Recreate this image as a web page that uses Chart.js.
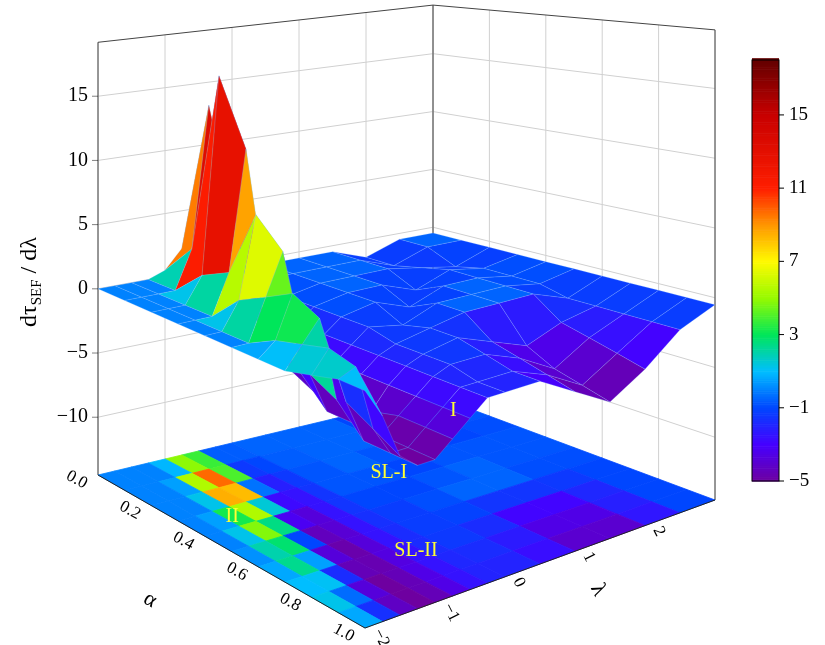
<!DOCTYPE html>
<html>
<head>
<meta charset="utf-8">
<script src="https://cdn.jsdelivr.net/npm/chart.js@4/dist/chart.umd.min.js"></script>
<style>
  body { margin: 0; background: #fff; }
  #holder { width: 825px; height: 645px; }
</style>
</head>
<body>
<div id="holder"><canvas id="chartHolder" width="825" height="645"></canvas></div>
<script>
const chartHolder = document.getElementById("chartHolder");

// grid of the surface
const alphaValues = [0, 0.1, 0.2, 0.3, 0.4, 0.5, 0.6, 0.7, 0.8, 0.9, 1.0];
const lambdaValues = [-2, -1.75, -1.5, -1.25, -1, -0.75, -0.5, -0.25, 0, 0.5, 1, 1.5, 2, 2.5, 3];
const row00 = [0, 0, 0, 0, 0.5, 2, 0, -0.5, -0.5, -0.5, -0.5, -0.5, -1.5, -0.5, -0.5];
const row01 = [0, 0, 0, 0, 3, 14, -1, -1, -0.5, -0.5, -0.5, -0.5, -1.5, -0.5, -0.5];
const row02 = [0, 0, 0, 2, 17, 5, -2, -1.5, -1, -0.5, -0.5, -0.5, -1, -1.5, -0.5];
const row03 = [0, 0, 0, 3, 12, -1, -3, -2, -1, -0.5, -0.5, -1.5, -0.5, -1, -0.5];
const row04 = [0, 0, 2, 8, -1, -4, -3, -2, -1, -0.5, -1.5, -0.5, -0.5, -1, -0.5];
const row05 = [0, 0, 3, 6, -3, -5, -3, -2, -1, -1.5, -0.5, -0.5, -0.5, -1, -0.5];
const row06 = [0, 1, 4, -2, -5, -4.5, -3, -2, -1.5, -1, -0.5, -0.5, -0.5, -1.5, -0.5];
const row07 = [0, 1.5, 3, -3, -5, -4.5, -3, -2, -1.5, -1, -2, -3, -2, -1.5, -0.5];
const row08 = [0.5, 2, -2, -5, -5, -4, -3, -2, -1.5, -1.5, -2.5, -4, -2.5, -1.5, -0.5];
const row09 = [1, 1.5, -3, -5, -5, -4, -3, -2, -2, -2, -3, -4.5, -3, -1.5, -0.5];
const row10 = [1, -1, -4, -5, -5, -4, -3, -2, -2, -2, -3.5, -5, -3.5, -1.5, -0.5];
const surfaceRows = [row00, row01, row02, row03, row04, row05, row06, row07, row08, row09, row10];

const zTicks = [-10, -5, 0, 5, 10, 15];
const alphaTicks = ["0.0", "0.2", "0.4", "0.6", "0.8", "1.0"];
const lambdaTicks = [-2, -1, 0, 1, 2];
const colorTicks = [-5, -1, 3, 7, 11, 15];
const colorMin = -5, colorMax = 18;
const zFloor = -14.5, zTop = 19.2;
const regionLabels = ["I", "SL-I", "II", "SL-II"];
const regionAt = [[0.12, 2.8], [0.35, 0.9], [0.35, -1.4], [0.75, -0.3]];

// colour map of the bar: value stops and colours
const mapStops = [-5, -3, -1, 1, 3, 5, 7, 9, 11, 15, 18];
const mapColors = [[110, 0, 160], [70, 0, 255], [0, 70, 255], [0, 190, 255], [0, 230, 90], [150, 250, 0],
                   [255, 250, 0], [255, 150, 0], [255, 30, 0], [200, 0, 0], [100, 0, 0]];

const FONT = "'Liberation Serif', serif";
const fmt = v => String(v).replace("-", "\u2212");

function colourOf(v)
{
    v = Math.max(colorMin, Math.min(colorMax, v));
    let k = 0;
    while (k < mapStops.length - 2 && v > mapStops[k + 1]) k++;
    const t = (v - mapStops[k]) / (mapStops[k + 1] - mapStops[k]);
    const c = [0, 1, 2].map(i => Math.round(mapColors[k][i] + (mapColors[k + 1][i] - mapColors[k][i]) * t));
    return "rgb(" + c.join(",") + ")";
}

// oblique view of the box, corners of the floor
function project(a, l, z)
{
    const t = (l + 2) / 5;
    const L = [98, 475], F = [365, 628], R = [715, 500], B = [433, 395];
    const near = [L[0] + (F[0] - L[0]) * a, L[1] + (F[1] - L[1]) * a];
    const far = [B[0] + (R[0] - B[0]) * a, B[1] + (R[1] - B[1]) * a];
    const x = near[0] + (far[0] - near[0]) * t;
    const y = near[1] + (far[1] - near[1]) * t;
    const fN = 12.84 + (15.3 - 12.84) * a, fF = 11.57 + (13.95 - 11.57) * a;
    const s = fN + (fF - fN) * t;
    return [x, y - (z - zFloor) * s];
}

const surfacePlugin = {
    id: "surface",
    afterDatasetsDraw(chart)
    {
        const ctx = chart.ctx;
        const sx = chart.scales.x, sy = chart.scales.y;
        const P = (a, l, z) => { const p = project(a, l, z); return [sx.getPixelForValue(p[0]), sy.getPixelForValue(p[1])]; };
        const poly = (pts) => { ctx.beginPath(); ctx.moveTo(pts[0][0], pts[0][1]); for (let i = 1; i < pts.length; i++) ctx.lineTo(pts[i][0], pts[i][1]); ctx.closePath(); };

        ctx.save();
        // walls
        ctx.strokeStyle = "#d0d0d0";
        ctx.lineWidth = 1;
        for (const z of zTicks)
        {
            ctx.beginPath(); ctx.moveTo(...P(0, -2, z)); ctx.lineTo(...P(0, 3, z)); ctx.lineTo(...P(1, 3, z)); ctx.stroke();
        }
        for (let l = -2; l <= 3; l += 1) { ctx.beginPath(); ctx.moveTo(...P(0, l, zFloor)); ctx.lineTo(...P(0, l, zTop)); ctx.stroke(); }
        for (let a = 0; a <= 1.001; a += 0.2) { ctx.beginPath(); ctx.moveTo(...P(a, 3, zFloor)); ctx.lineTo(...P(a, 3, zTop)); ctx.stroke(); }
        ctx.strokeStyle = "#444";
        for (const c of [[0, -2], [0, 3], [1, 3]]) { ctx.beginPath(); ctx.moveTo(...P(c[0], c[1], zFloor)); ctx.lineTo(...P(c[0], c[1], zTop)); ctx.stroke(); }
        ctx.beginPath(); ctx.moveTo(...P(0, -2, zTop)); ctx.lineTo(...P(0, 3, zTop)); ctx.lineTo(...P(1, 3, zTop)); ctx.stroke();

        // quads sorted back to front
        const quads = [];
        for (let i = 0; i < alphaValues.length - 1; i++)
            for (let j = 0; j < lambdaValues.length - 1; j++)
            {
                const a0 = alphaValues[i], a1 = alphaValues[i + 1], l0 = lambdaValues[j], l1 = lambdaValues[j + 1];
                const zs = [surfaceRows[i][j], surfaceRows[i][j + 1], surfaceRows[i + 1][j + 1], surfaceRows[i + 1][j]];
                const mean = (zs[0] + zs[1] + zs[2] + zs[3]) / 4;
                const shade = mean > 0 ? (mean + Math.max(...zs)) / 2 : (mean + Math.min(...zs)) / 2;
                quads.push({ a0, a1, l0, l1, zs, mean, shade, depth: (a0 + a1) / 2 - ((l0 + l1) / 2 + 2) / 5 });
            }
        quads.sort((p, q) => p.depth - q.depth);

        // floor map
        for (const q of quads)
        {
            poly([P(q.a0, q.l0, zFloor), P(q.a0, q.l1, zFloor), P(q.a1, q.l1, zFloor), P(q.a1, q.l0, zFloor)]);
            ctx.fillStyle = colourOf(q.mean); ctx.fill();
            ctx.strokeStyle = colourOf(q.mean); ctx.lineWidth = 0.8; ctx.stroke();
        }
        ctx.strokeStyle = "#222"; ctx.lineWidth = 1;
        ctx.beginPath(); ctx.moveTo(...P(0, -2, zFloor)); ctx.lineTo(...P(1, -2, zFloor)); ctx.lineTo(...P(1, 3, zFloor)); ctx.stroke();

        // surface
        for (const q of quads)
        {
            poly([P(q.a0, q.l0, q.zs[0]), P(q.a0, q.l1, q.zs[1]), P(q.a1, q.l1, q.zs[2]), P(q.a1, q.l0, q.zs[3])]);
            ctx.fillStyle = colourOf(q.shade); ctx.fill();
            ctx.strokeStyle = "rgba(140,190,255,0.45)"; ctx.lineWidth = 0.5; ctx.stroke();
        }

        // region labels
        ctx.fillStyle = "#ffff33"; ctx.font = "20px " + FONT; ctx.textAlign = "center"; ctx.textBaseline = "middle";
        regionLabels.forEach((s, k) => { const p = P(regionAt[k][0], regionAt[k][1], zFloor); ctx.fillText(s, p[0], p[1]); });

        // z ticks
        ctx.fillStyle = "#000"; ctx.strokeStyle = "#000"; ctx.textAlign = "right";
        for (const z of zTicks)
        {
            const p = P(0, -2, z);
            ctx.beginPath(); ctx.moveTo(p[0] - 6, p[1]); ctx.lineTo(p[0], p[1]); ctx.stroke();
            ctx.fillText(fmt(z), p[0] - 10, p[1]);
        }
        // alpha ticks
        alphaTicks.forEach((s, k) =>
        {
            const p = P(k / 5, -2, zFloor);
            ctx.save(); ctx.translate(p[0] - 12, p[1] + 10); ctx.rotate(0.5); ctx.textAlign = "right"; ctx.font = "17px " + FONT;
            ctx.fillText(s, 0, 0); ctx.restore();
        });
        // lambda ticks
        for (const l of lambdaTicks)
        {
            const p = P(1, l, zFloor);
            ctx.save(); ctx.translate(p[0] + 12, p[1] + 2); ctx.rotate(1.1); ctx.textAlign = "left"; ctx.font = "17px " + FONT;
            ctx.fillText(fmt(l), 0, 0); ctx.restore();
        }
        ctx.font = "22px " + FONT; ctx.textAlign = "center";
        ctx.save(); ctx.translate(sx.getPixelForValue(150), sy.getPixelForValue(600)); ctx.rotate(0.5); ctx.fillText("α", 0, 0); ctx.restore();
        ctx.save(); ctx.translate(sx.getPixelForValue(598), sy.getPixelForValue(590)); ctx.rotate(1.1); ctx.fillText("λ", 0, 0); ctx.restore();

        // y title
        ctx.save(); ctx.translate(sx.getPixelForValue(30), sy.getPixelForValue(265)); ctx.rotate(-Math.PI / 2);
        ctx.textAlign = "left"; ctx.font = "24px " + FONT;
        let x0 = -62;
        ctx.fillText("dτ", x0, 0); x0 += ctx.measureText("dτ").width;
        ctx.font = "15px " + FONT; ctx.fillText("SEF", x0, 7); x0 += ctx.measureText("SEF").width;
        ctx.font = "24px " + FONT; ctx.fillText(" / dλ", x0, 0);
        ctx.restore();

        // colour bar
        const cx0 = sx.getPixelForValue(752), cx1 = sx.getPixelForValue(779);
        const cy = v => sy.getPixelForValue(481 - (v - colorMin) * (481 - 60) / (colorMax - colorMin));
        for (let v = colorMin; v < colorMax; v += 0.1)
        {
            ctx.fillStyle = colourOf(v + 0.05);
            ctx.fillRect(cx0, cy(v + 0.1), cx1 - cx0, cy(v) - cy(v + 0.1) + 0.6);
        }
        ctx.strokeStyle = "#000"; ctx.lineWidth = 1;
        ctx.strokeRect(cx0, cy(colorMax), cx1 - cx0, cy(colorMin) - cy(colorMax));
        ctx.fillStyle = "#000"; ctx.font = "19px " + FONT; ctx.textAlign = "left";
        for (const v of colorTicks)
        {
            ctx.beginPath(); ctx.moveTo(cx1, cy(v)); ctx.lineTo(cx1 + 5, cy(v)); ctx.stroke();
            ctx.fillText(fmt(v), cx1 + 10, cy(v));
        }
        ctx.restore();
    }
};

new Chart(chartHolder, {
    type: "scatter",
    data: { datasets: [{ data: [], showLine: false }] },
    options: {
        responsive: false,
        animation: false,
        layout: { padding: 0 },
        plugins: { legend: { display: false }, tooltip: { enabled: false } },
        scales: {
            x: { type: "linear", min: 0, max: 825, display: false },
            y: { type: "linear", min: 0, max: 645, reverse: true, display: false }
        }
    },
    plugins: [surfacePlugin]
});
</script>
</body>
</html>
